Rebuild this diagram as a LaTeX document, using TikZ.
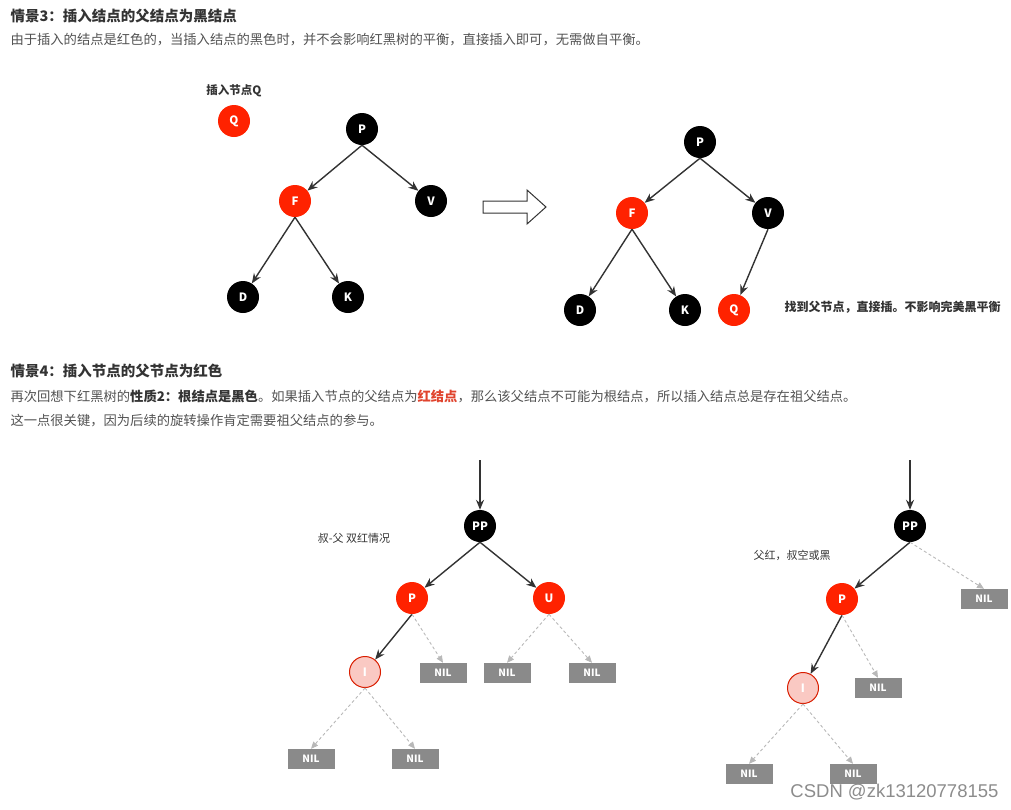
\documentclass[tikz,border=0pt]{standalone}
\usepackage{fontspec}
\setmainfont{Noto Sans CJK SC}
\newfontfamily\wmfont{Liberation Sans}
\usepackage{tikz}
\usetikzlibrary{arrows.meta, positioning}
\definecolor{rbRed}{HTML}{FF2200}
\definecolor{rbPink}{HTML}{FAC9C3}
\definecolor{rbNil}{HTML}{8A8A8A}
\definecolor{rbLine}{HTML}{333333}
\definecolor{rbText}{HTML}{333333}
\definecolor{rbNote}{HTML}{E0442E}

\begin{document}
\begin{tikzpicture}[x=1pt, y=-1pt, font=\fontsize{13.3}{16}\selectfont,
  blk/.style={circle, fill=black, text=white, minimum size=32pt, inner sep=0pt,
              font=\fontsize{11.5}{11.5}\selectfont\bfseries},
  rd/.style={blk, fill=rbRed},
  ins/.style={blk, fill=rbPink, draw=rbRed!85!black, line width=1pt, minimum size=31pt},
  nil/.style={fill=rbNil, text=white, minimum width=47pt, minimum height=20pt, inner sep=0pt,
              font=\fontsize{10}{10}\selectfont\bfseries},
  tie/.style={-{Stealth[length=10pt,width=8pt]}, draw=rbLine, line width=1.4pt},
  niltie/.style={-{Triangle[length=7pt,width=6pt]}, draw=black!28, dash pattern=on 3pt off 2.5pt, line width=0.9pt},
  hd/.style={anchor=west, text=rbText, font=\fontsize{14.5}{16}\selectfont\bfseries},
  txt/.style={anchor=west, text=black!68},
  lbl/.style={text=rbText, font=\fontsize{11.5}{12}\selectfont\bfseries},
]
  \useasboundingbox (0,0) rectangle (1011,809);
  % situation 3
  \node[hd] (t3) at (7,16) {情景3：插入结点的父结点为黑结点};
  \node[txt] (s3) at (7,40) {由于插入的结点是红色的，当插入结点的黑色时，并不会影响红黑树的平衡，直接插入即可，无需做自平衡。};
  \node[lbl] (qlab) at (234,91) {插入节点Q};
  \node[rd] (q0) at (234,121) {Q};
  \node[blk] (p0) at (362,129) {P};
  \node[rd] (f0) at (295,201) {F};
  \node[blk] (v0) at (431,201) {V};
  \node[blk] (d0) at (243,297) {D};
  \node[blk] (k0) at (348,297) {K};
  \foreach \a/\b in {p0/f0,p0/v0,f0/d0,f0/k0}{
    \draw[tie] (\a.south) -- (\b);}
  \draw[draw=rbLine, line width=1pt, fill=white]
    (483,201) -- (527,201) -- (527,190) -- (546,207) -- (527,224) -- (527,213) -- (483,213) -- cycle;
  \node[blk] (p1) at (700,142) {P};
  \node[rd] (f1) at (632,213) {F};
  \node[blk] (v1) at (768,213) {V};
  \node[blk] (d1) at (580,310) {D};
  \node[blk] (k1) at (685,310) {K};
  \node[rd] (q1) at (734,310) {Q};
  \foreach \a/\b in {p1/f1,p1/v1,f1/d1,f1/k1,v1/q1}{
    \draw[tie] (\a.south) -- (\b);}
  \node[lbl, anchor=west, font=\fontsize{12}{12}\selectfont\bfseries] (note3) at (781,307) {找到父节点，直接插。不影响完美黑平衡};
  % situation 4
  \node[hd] (t4) at (7,371) {情景4：插入节点的父节点为红色};
  \node[txt] (s4a) at (7,396) {再次回想下红黑树的\textbf{\color{rbText}性质2：根结点是黑色}。如果插入节点的父结点为\textbf{\color{rbNote}红结点}，那么该父结点不可能为根结点，所以插入结点总是存在祖父结点。};
  \node[txt] (s4b) at (7,421) {这一点很关键，因为后续的旋转操作肯定需要祖父结点的参与。};
  \coordinate (in1) at (480,460);
  \node[blk] (pp1) at (480,526) {PP};
  \node[lbl, font=\fontsize{11}{11}\selectfont] (lab1) at (354,538) {叔-父 双红情况};
  \node[rd] (pa1) at (412,598) {P};
  \node[rd] (u1) at (549,598) {U};
  \node[ins] (i1) at (365,672) {I};
  \node[nil] (n1) at (443,673) {NIL};
  \node[nil] (n2) at (507,673) {NIL};
  \node[nil] (n3) at (592,673) {NIL};
  \node[nil] (n4) at (311,759) {NIL};
  \node[nil] (n5) at (415,759) {NIL};
  \foreach \a/\b in {in1/pp1,pp1/pa1,pp1/u1,pa1/i1}{
    \draw[tie] (\a.south) -- (\b);}
  \foreach \a/\b in {pa1/n1,u1/n2,u1/n3,i1/n4,i1/n5}{
    \draw[niltie] (\a.south) -- (\b.north);}
  \coordinate (in2) at (910,460);
  \node[blk] (pp2) at (910,526) {PP};
  \node[lbl, font=\fontsize{11}{11}\selectfont] (lab2) at (792,555) {父红，叔空或黑};
  \node[rd] (pa2) at (842,599) {P};
  \node[ins] (i2) at (803,688) {I};
  \node[nil] (m1) at (984,599) {NIL};
  \node[nil] (m2) at (878,688) {NIL};
  \node[nil] (m3) at (749,774) {NIL};
  \node[nil] (m4) at (853,774) {NIL};
  \foreach \a/\b in {in2/pp2,pp2/pa2,pa2/i2}{
    \draw[tie] (\a.south) -- (\b);}
  \foreach \a/\b in {pp2/m1,pa2/m2,i2/m3,i2/m4}{
    \draw[niltie] (\a.south) -- (\b.north);}
  \node[anchor=east, text=black!45, font=\wmfont\fontsize{18.5}{18.5}\selectfont] (wm) at (1002,792) {CSDN @zk13120778155};
\end{tikzpicture}
\end{document}
